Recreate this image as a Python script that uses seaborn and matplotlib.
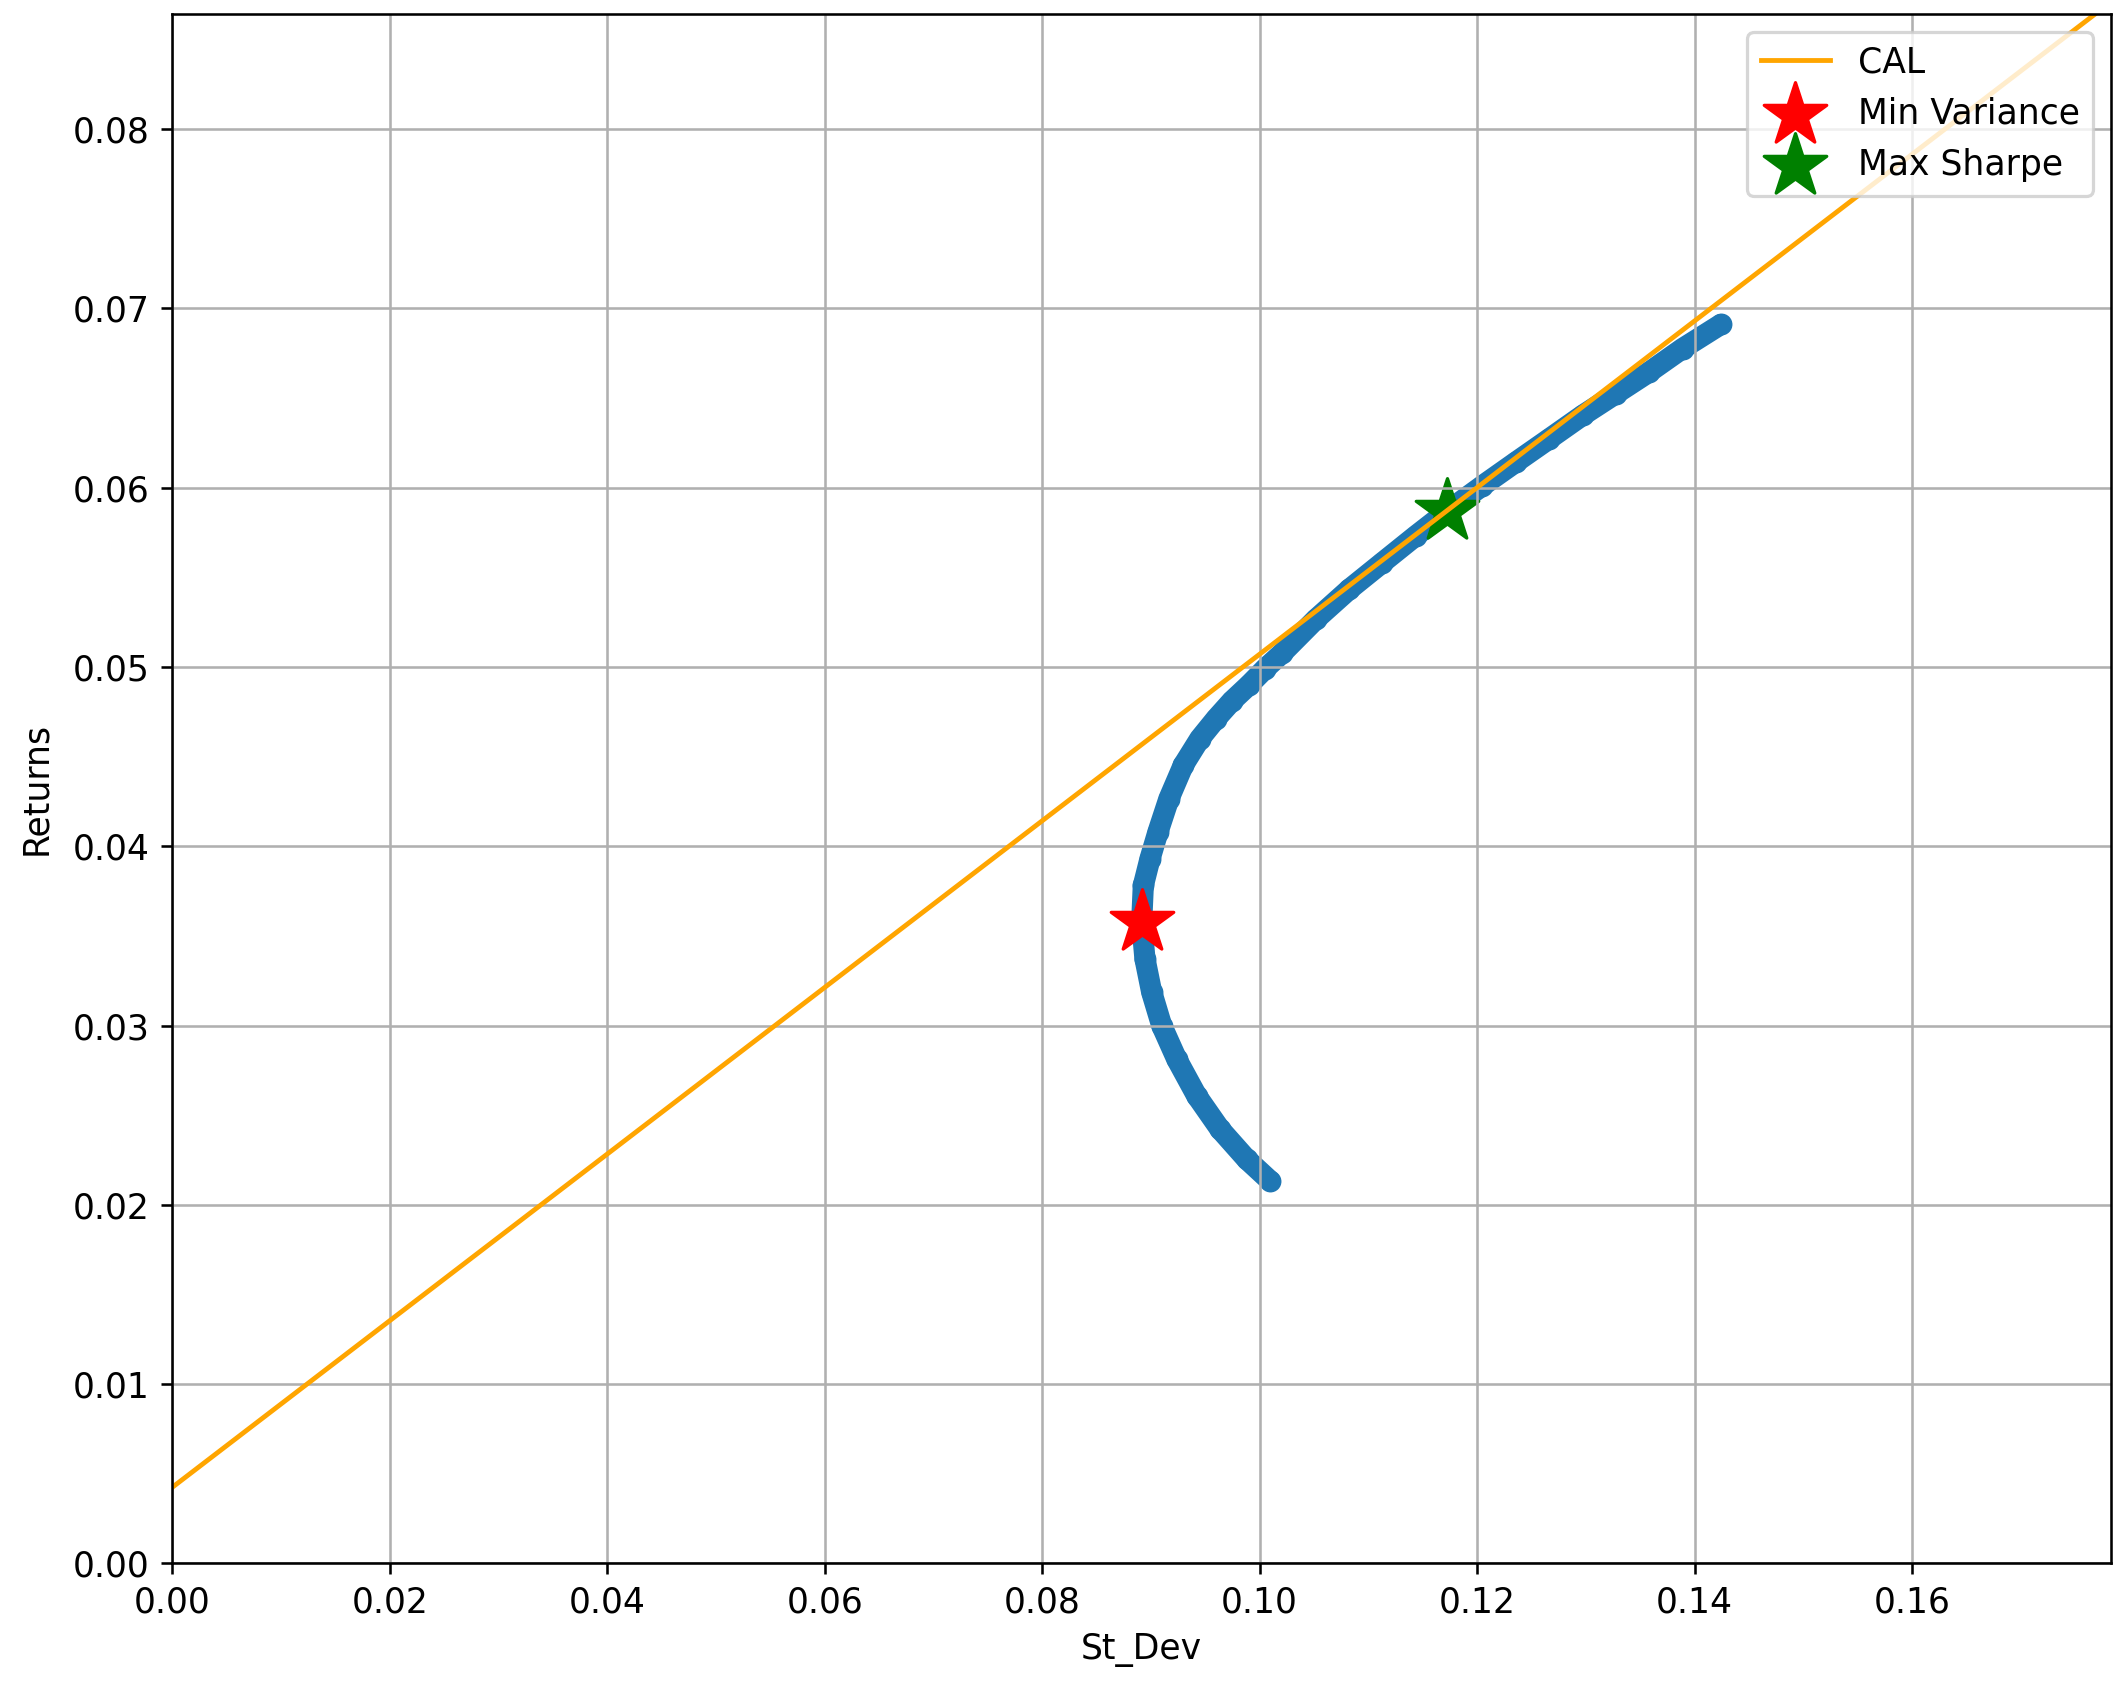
import numpy as np
import pandas as pd
import seaborn as sns
import matplotlib
matplotlib.use("Agg")
import matplotlib.pyplot as plt

# frontera eficiente, ordenada por rentabilidad
returns = [0.02134, 0.02254, 0.02422, 0.02608, 0.02813, 0.03000, 0.03186,
           0.03372, 0.03577, 0.03781, 0.03931, 0.04080, 0.04264, 0.04452,
           0.04600, 0.04712, 0.04810, 0.04898, 0.04990, 0.05078, 0.05265,
           0.05432, 0.05582, 0.05731, 0.05868, 0.06011, 0.06142, 0.06272,
           0.06403, 0.06524, 0.06645, 0.06776, 0.06910]
st_dev = [0.10095, 0.09881, 0.09635, 0.09421, 0.09237, 0.09099, 0.09007,
          0.08945, 0.08915, 0.08930, 0.08992, 0.09065, 0.09165, 0.09298,
          0.09450, 0.09600, 0.09745, 0.09900, 0.10050, 0.10209, 0.10515,
          0.10822, 0.11129, 0.11435, 0.11725, 0.12049, 0.12355, 0.12662,
          0.12969, 0.13276, 0.13582, 0.13889, 0.14240]

# CAL
cal_x = [0.0, 0.18]
cal_y = [0.00424, 0.08789]

# carteras optimas
min_var = (0.08915, 0.03577)
max_sharpe = (0.11725, 0.05868)

frontier = pd.DataFrame({"St_Dev": st_dev, "Returns": returns})

plt.rcParams["font.size"] = 10.8

dpi = 231
fig = plt.figure(figsize=(2126 / dpi, 1681 / dpi), dpi=dpi)
ax = fig.add_axes([0.0810, 0.06996, 0.99281 - 0.0810, 0.99149 - 0.06996])

blue = "#1f77b4"
sns.lineplot(data=frontier, x="St_Dev", y="Returns", sort=False, estimator=None,
             color=blue, linewidth=6.6, solid_capstyle="round",
             solid_joinstyle="round", zorder=1, ax=ax)
sns.scatterplot(data=frontier, x="St_Dev", y="Returns", color=blue, s=40,
                linewidth=0.5, edgecolor=blue, zorder=1, ax=ax)

sns.lineplot(x=cal_x, y=cal_y, color="orange", linewidth=1.5, label="CAL", ax=ax)

sns.scatterplot(x=[min_var[0]], y=[min_var[1]], marker="*", s=420, color="red",
                linewidth=1, edgecolor="red", label="Min Variance", zorder=1, ax=ax)
sns.scatterplot(x=[max_sharpe[0]], y=[max_sharpe[1]], marker="*", s=420, color="green",
                linewidth=1, edgecolor="green", label="Max Sharpe", zorder=1, ax=ax)

ax.set_xlim(0, 0.17826)
ax.set_ylim(0, 0.0864)
ax.set_xticks(np.arange(0, 0.17, 0.02))
ax.set_yticks(np.arange(0, 0.085, 0.01))
ax.grid(True)
ax.set_xlabel("St_Dev")
ax.set_ylabel("Returns", labelpad=6)
ax.legend(loc="upper right")

fig.savefig("out.png", dpi=dpi)
